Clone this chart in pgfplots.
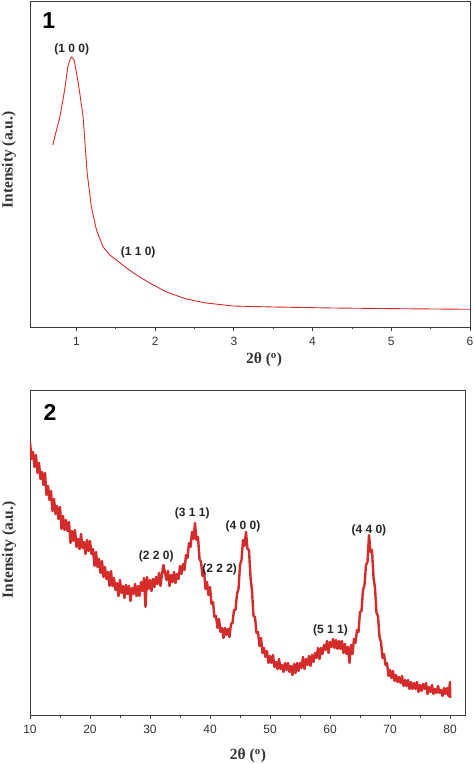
\documentclass[border=0pt]{standalone}
\usepackage{fontspec}
\setmainfont{Liberation Sans}
\newfontfamily\tnr{Liberation Serif}
\usepackage{pgfplots}
\pgfplotsset{compat=1.18}
\definecolor{xrdred}{RGB}{212,43,43}
\definecolor{axgray}{RGB}{60,60,60}
\pgfplotsset{
  xrd/.style={
    scale only axis,
    anchor=south west,
    axis line style={axgray, line width=0.9pt},
    ytick=\empty,
    xtick pos=bottom,
    tick align=outside,
    major tick length=4pt,
    minor tick length=2.5pt,
    minor x tick num=1,
    every tick/.style={axgray, line width=0.8pt},
    /pgf/number format/assume math mode=true,
    xticklabel style={font=\fontsize{12}{12}\selectfont, text=black!80, yshift=-3pt},
    ymin=0,
    clip=true,
  },
}
\tikzset{
  ann/.style={font=\fontsize{12}{12}\selectfont\bfseries, text=black!85, anchor=center},
  pnum/.style={font=\fontsize{23}{23}\selectfont\bfseries, anchor=center},
  ylab/.style={font=\fontsize{15.5}{15.5}\selectfont\tnr\bfseries, text=black!80, anchor=center},
  xlab/.style={font=\fontsize{15.5}{15.5}\selectfont\tnr\bfseries, text=black!80, anchor=center},
}
\begin{document}
\begin{tikzpicture}
\useasboundingbox (0pt,0pt) rectangle (474pt,764pt);
\begin{axis}[xrd,
  at={(30pt,437pt)}, width=440pt, height=326pt,
  xmin=0.41, xmax=6, ymax=326,
  xtick={1,2,3,4,5,6},
  ylabel={Intensity (a.u.)},
  ylabel style={ylab, at={(axis description cs:-0.048,0.512)}},
  xlabel={2θ (\textsuperscript{o})},
  xlabel style={xlab, at={(axis description cs:0.532,-0.1)}},
]
\addplot[xrdred, line width=0.9pt] coordinates {
(0.70,182) (0.74,195) (0.79,210) (0.85,237) (0.89,260) (0.92,268) (0.94,270)
(0.97,267) (1.01,250) (1.04,235) (1.085,210) (1.136,154) (1.19,120) (1.254,97)
(1.339,80) (1.424,72) (1.508,67) (1.636,59) (1.763,52) (1.93,44) (2.144,35)
(2.398,28) (2.65,24) (2.99,21) (3.5,20) (4.26,19) (5.11,18.3) (6.0,17.7)
};
\node[pnum] at (axis cs:0.648,306) {1};
\node[ann] at (axis cs:0.94,278) {(1 0 0)};
\node[ann] at (axis cs:1.784,75) {(1 1 0)};
\end{axis}

\begin{axis}[xrd,
  at={(30pt,49pt)}, width=435pt, height=325pt,
  xmin=10, xmax=82.5, ymax=325,
  xtick={10,20,...,80},
  ylabel={Intensity (a.u.)},
  ylabel style={ylab, at={(axis description cs:-0.048,0.508)}},
  xlabel={2θ (\textsuperscript{o})},
  xlabel style={xlab, at={(axis description cs:0.501,-0.125)}},
]
\addplot[xrdred, line width=2.4pt, line join=round] coordinates {
(10.00,273) (10.25,256) (10.50,263) (10.75,248) (11.00,260) (11.25,242) (11.50,252) (11.75,236)
(12.00,243) (12.25,230) (12.50,242) (12.75,220) (13.00,229) (13.25,215) (13.50,224) (13.75,204)
(14.00,216) (14.25,201) (14.50,209) (14.75,196) (15.00,208) (15.25,186) (15.50,199) (15.75,185)
(16.00,195) (16.25,184) (16.50,193) (16.75,172) (17.00,184) (17.25,174) (17.50,185) (17.75,168)
(18.00,176) (18.25,166) (18.50,181) (18.75,167) (19.00,173) (19.25,161) (19.50,175) (19.75,164)
(20.00,174) (20.25,161) (20.50,166) (20.75,149) (21.00,163) (21.25,148) (21.50,156) (21.75,142)
(22.00,154) (22.25,138) (22.50,148) (22.75,136) (23.00,143) (23.25,129) (23.50,144) (23.75,129)
(24.00,137) (24.25,125) (24.50,132) (24.75,119) (25.00,135) (25.25,122) (25.50,129) (25.75,117)
(26.00,130) (26.25,121) (26.50,129) (26.75,114) (27.00,127) (27.25,121) (27.50,131) (27.75,119)
(28.00,129) (28.25,119) (28.50,133) (28.75,124) (29.00,137) (29.25,108) (29.50,138) (29.75,126)
(30.00,135) (30.25,124) (30.50,136) (30.75,128) (31.00,138) (31.25,131) (31.50,142) (31.75,129)
(32.00,141) (32.25,150) (32.50,142) (32.75,135) (33.00,144) (33.25,129) (33.50,140) (33.75,133)
(34.00,143) (34.25,132) (34.50,141) (34.75,136) (35.00,149) (35.25,141) (35.50,151) (35.75,145)
(36.00,160) (36.25,157) (36.50,172) (36.75,168) (37.00,183) (37.25,176) (37.50,192) (37.75,175)
(38.00,178) (38.25,156) (38.50,153) (38.75,139) (39.00,144) (39.25,126) (39.50,133) (39.75,120)
(40.00,128) (40.25,111) (40.50,113) (40.75,98) (41.00,99) (41.25,87) (41.50,96) (41.75,83)
(42.00,87) (42.25,77) (42.50,87) (42.75,80) (43.00,86) (43.25,78) (43.50,91) (43.75,92)
(44.00,105) (44.25,105) (44.50,121) (44.75,126) (45.00,150) (45.25,155) (45.50,175) (45.75,169)
(46.00,183) (46.25,166) (46.50,165) (46.75,138) (47.00,124) (47.25,99) (47.50,98) (47.75,82)
(48.00,83) (48.25,69) (48.50,77) (48.75,62) (49.00,67) (49.25,58) (49.50,64) (49.75,52)
(50.00,59) (50.25,52) (50.50,60) (50.75,48) (51.00,53) (51.25,46) (51.50,56) (51.75,46)
(52.00,50) (52.25,43) (52.50,52) (52.75,45) (53.00,52) (53.25,43) (53.50,49) (53.75,40)
(54.00,51) (54.25,42) (54.50,52) (54.75,44) (55.00,52) (55.25,47) (55.50,58) (55.75,46)
(56.00,56) (56.25,50) (56.50,59) (56.75,49) (57.00,60) (57.25,53) (57.50,62) (57.75,57)
(58.00,67) (58.25,56) (58.50,67) (58.75,61) (59.00,70) (59.25,65) (59.50,74) (59.75,62)
(60.00,73) (60.25,68) (60.50,76) (60.75,67) (61.00,75) (61.25,66) (61.50,74) (61.75,66)
(62.00,74) (62.25,62) (62.50,71) (62.75,61) (63.00,68) (63.25,52) (63.50,70) (63.75,61)
(64.00,76) (64.25,72) (64.50,85) (64.75,83) (65.00,103) (65.25,104) (65.50,125) (65.75,130)
(66.00,150) (66.25,153) (66.50,180) (66.75,163) (67.00,165) (67.25,138) (67.50,127) (67.75,102)
(68.00,99) (68.25,78) (68.50,73) (68.75,57) (69.00,61) (69.25,50) (69.50,52) (69.75,39)
(70.00,45) (70.25,37) (70.50,44) (70.75,34) (71.00,40) (71.25,33) (71.50,38) (71.75,32)
(72.00,39) (72.25,29) (72.50,35) (72.75,29) (73.00,35) (73.25,26) (73.50,33) (73.75,26)
(74.00,32) (74.25,26) (74.50,33) (74.75,23) (75.00,30) (75.25,24) (75.50,31) (75.75,26)
(76.00,32) (76.25,21) (76.50,28) (76.75,23) (77.00,30) (77.25,21) (77.50,26) (77.75,22)
(78.00,29) (78.25,22) (78.50,25) (78.75,19) (79.00,27) (79.25,21) (79.50,27) (79.75,19)
(80.00,33) (80.02,17)
};
\node[pnum] at (axis cs:13.34,303) {2};
\node[ann] at (axis cs:37.05,202) {(3 1 1)};
\node[ann] at (axis cs:45.5,189) {(4 0 0)};
\node[ann] at (axis cs:66.48,185) {(4 4 0)};
\node[ann] at (axis cs:31.03,159) {(2 2 0)};
\node[ann] at (axis cs:41.6,146) {(2 2 2)};
\node[ann] at (axis cs:60.08,85) {(5 1 1)};
\end{axis}
\end{tikzpicture}
\end{document}
